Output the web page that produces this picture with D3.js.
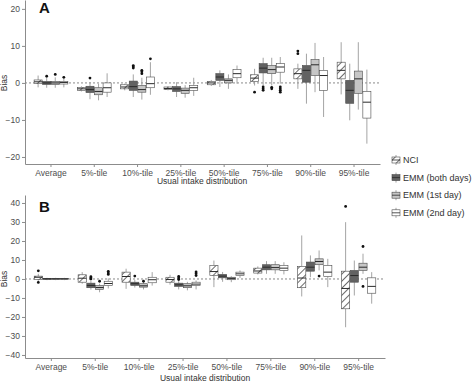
<!DOCTYPE html>
<html>
<head>
<meta charset="utf-8">
<script src="https://cdn.jsdelivr.net/npm/d3@7"></script>
<style>
  body { margin: 0; background: #fff; }
  text { font-family: "Liberation Sans", Arial, sans-serif; }
</style>
</head>
<body>
<svg width="474" height="383"></svg>
<script>
var categories = ["Average", "5%-tile", "10%-tile", "25%-tile", "50%-tile", "75%-tile", "90%-tile", "95%-tile"];
var series = ["NCI", "EMM (both days)", "EMM (1st day)", "EMM (2nd day)"];

// [lower whisker, q1, median, q3, upper whisker] per category
var aNCI = [[-1.2, -0.2, 0.3, 0.8, 2.0], [-2.3, -2.0, -1.6, -1.2, -0.9], [-2.0, -1.6, -1.1, -0.5, -0.2], [-2.0, -1.8, -1.5, -1.1, -0.9],
            [-0.8, -0.5, 0.0, 0.4, 0.8], [-0.7, 0.4, 1.3, 2.2, 3.8], [-1.6, 1.1, 2.5, 3.8, 5.2], [-3.1, 1.1, 3.4, 5.6, 11.0]];
var aBoth = [[-1.3, -0.4, 0.0, 0.4, 1.3], [-4.4, -2.6, -1.8, -0.9, 0.2], [-3.8, -2.0, -1.0, 0.5, 2.3], [-3.8, -2.3, -1.6, -1.0, 0.2],
             [-1.1, 0.7, 1.6, 2.5, 3.4], [-0.7, 2.7, 4.0, 5.2, 6.8], [-5.6, 0.2, 3.4, 4.7, 7.9], [-10.1, -5.5, -2.0, 0.7, 5.2]];
var aFirst = [[-1.3, -0.4, 0.0, 0.4, 1.5], [-4.7, -3.2, -2.3, -1.3, -0.2], [-4.5, -2.5, -1.8, -0.7, 1.4], [-4.0, -2.8, -2.0, -1.4, -0.6],
              [-1.6, 0.0, 0.7, 1.1, 2.3], [-0.7, 2.5, 3.6, 4.7, 6.8], [-2.5, 2.0, 4.9, 6.3, 10.8], [-7.2, -2.8, 1.1, 3.2, 11.0]];
var aSecond = [[-1.2, -0.3, 0.1, 0.4, 1.2], [-3.8, -2.5, -1.3, 0.0, 2.6], [-3.2, -1.3, -0.2, 1.6, 5.6], [-3.5, -2.0, -1.3, -0.7, 1.4],
               [-0.2, 1.4, 2.5, 3.6, 4.7], [-0.2, 2.9, 4.3, 5.2, 7.0], [-9.2, -2.0, 2.0, 3.4, 7.0], [-16.4, -9.5, -5.2, -2.3, 3.6]];
// outliers: [series index, category index, value]
var aOutliers = [[1, 0, 1.8], [2, 0, 2.3], [3, 0, 1.5], [1, 1, 1.3],
                 [1, 2, 4.0], [1, 2, 4.4], [1, 2, 4.7], [2, 2, 2.5], [2, 2, 3.0], [2, 2, 3.4], [3, 2, 6.5],
                 [0, 5, -2.5], [1, 5, -1.1], [1, 5, -1.6], [1, 5, -2.0], [2, 5, -1.2], [2, 5, -1.6],
                 [3, 5, -1.1], [3, 5, -1.6], [3, 5, -2.0], [3, 5, -2.5], [0, 6, 7.9], [0, 6, 8.6]];

var bNCI = [[-1.0, -0.3, 0.9, 1.5, 2.7], [-2.5, -1.7, 0.4, 2.2, 3.6], [-5.2, -1.7, 1.3, 3.6, 5.4], [-3.0, -1.7, -0.3, 0.9, 2.2],
            [-4.3, 1.8, 3.9, 7.1, 9.7], [2.4, 3.1, 4.2, 5.7, 6.6], [-9.2, -4.6, 0.5, 6.6, 22.9], [-25.4, -15.7, -5.0, 4.1, 29.9]];
var bBoth = [[-0.6, -0.2, 0.1, 0.3, 0.6], [-5.6, -4.6, -3.4, -2.2, -0.8], [-4.5, -3.4, -2.5, -1.7, -0.5], [-5.5, -3.9, -3.1, -2.2, -1.0],
             [-1.5, 0.6, 1.5, 2.4, 3.7], [2.7, 4.8, 6.2, 7.5, 9.4], [0.9, 4.1, 6.2, 8.9, 12.4], [-8.7, -1.7, 1.8, 4.5, 9.7]];
var bFirst = [[-0.6, -0.2, 0.1, 0.3, 0.6], [-7.0, -5.5, -4.5, -3.4, -2.5], [-5.5, -4.3, -3.6, -2.5, -1.8], [-6.0, -4.6, -3.6, -2.5, -1.5],
              [-1.7, -0.4, 0.3, 0.9, 1.5], [2.7, 4.8, 6.0, 7.5, 9.4], [4.5, 7.5, 9.2, 10.6, 15.0], [2.7, 4.5, 6.2, 8.3, 13.3]];
var bSecond = [[-0.6, -0.2, 0.1, 0.3, 0.6], [-5.0, -3.4, -2.4, -1.2, 0.3], [-3.5, -2.0, -0.4, 0.9, 3.6], [-5.5, -3.4, -2.7, -1.7, -0.8],
               [0.6, 1.8, 2.7, 3.6, 4.5], [2.4, 4.5, 5.7, 7.1, 8.8], [-4.3, 1.3, 3.6, 7.1, 10.6], [-13.0, -7.5, -3.9, 0.6, 3.6]];
var bOutliers = [[0, 0, 4.3], [0, 0, -1.8], [1, 1, 0.0], [1, 1, 0.6], [1, 1, 1.2], [2, 1, -1.2], [3, 1, 2.4], [3, 1, 3.2], [3, 1, 4.0],
                 [1, 2, 1.5], [2, 2, -1.2], [1, 3, -0.3], [1, 3, 0.5], [1, 3, 1.3], [3, 3, 1.8], [3, 3, 2.8], [3, 3, 3.7],
                 [2, 6, 1.5], [0, 7, 38.2], [2, 7, 17.1], [2, 7, -3.9]];

var aTicks = [-20, -10, 0, 10, 20];
var bTicks = [-40, -30, -20, -10, 0, 10, 20, 30, 40];

var fills = ["url(#hatch)", "#626262", "#c6c6c6", "#ffffff"];

var svg = d3.select("svg");

var pat = svg.append("defs").append("pattern")
    .attr("id", "hatch")
    .attr("patternUnits", "userSpaceOnUse")
    .attr("width", 5).attr("height", 5)
    .attr("patternTransform", "rotate(45)");
pat.append("rect").attr("width", 5).attr("height", 5).attr("fill", "#fff");
pat.append("line").attr("x1", 0).attr("y1", 0).attr("x2", 0).attr("y2", 5)
    .attr("stroke", "#1a1a1a").attr("stroke-width", 1.3);

function drawPanel(p) {
  var x = d3.scaleBand().domain(categories).range([p.left, p.right]).paddingInner(0).paddingOuter(0.1);
  var y = d3.scaleLinear().domain(p.domain).range([p.bottom, p.top]);
  var groupW = x.bandwidth() * 0.78;
  var inner = d3.scaleBand().domain(d3.range(series.length)).range([0, groupW]).paddingInner(0.06);
  var off = (x.bandwidth() - groupW) / 2;
  var g = svg.append("g");

  // dashed zero reference line
  g.append("line")
      .attr("x1", p.left).attr("x2", p.right)
      .attr("y1", y(0)).attr("y2", y(0))
      .attr("stroke", "#555").attr("stroke-width", 0.7)
      .attr("stroke-dasharray", "2,2");

  p.stats.forEach(function(arr, si) {
    arr.forEach(function(d, ci) {
      var cx = x(categories[ci]) + off + inner(si) + inner.bandwidth() / 2;
      var w = inner.bandwidth();
      g.append("line").attr("x1", cx).attr("x2", cx).attr("y1", y(d[0])).attr("y2", y(d[1]))
          .attr("stroke", "#9a9a9a").attr("stroke-width", 0.9);
      g.append("line").attr("x1", cx).attr("x2", cx).attr("y1", y(d[3])).attr("y2", y(d[4]))
          .attr("stroke", "#9a9a9a").attr("stroke-width", 0.9);
      g.append("rect")
          .attr("x", cx - w / 2).attr("width", w)
          .attr("y", y(d[3])).attr("height", Math.max(1, y(d[1]) - y(d[3])))
          .attr("fill", fills[si])
          .attr("stroke", "#4a4a4a").attr("stroke-width", 0.6);
      g.append("line").attr("x1", cx - w / 2).attr("x2", cx + w / 2).attr("y1", y(d[2])).attr("y2", y(d[2]))
          .attr("stroke", "#2a2a2a").attr("stroke-width", 1);
    });
  });

  g.selectAll(".outlier")
      .data(p.outliers)
      .enter().append("circle")
      .attr("class", "outlier")
      .attr("cx", function(d) { return x(categories[d[1]]) + off + inner(d[0]) + inner.bandwidth() / 2; })
      .attr("cy", function(d) { return y(d[2]); })
      .attr("r", 1.4)
      .attr("fill", "#111");

  var ax = g.append("g")
      .attr("transform", "translate(0," + p.bottom + ")")
      .call(d3.axisBottom(x).tickSize(3).tickSizeOuter(0).tickPadding(2.5));
  var ay = g.append("g")
      .attr("transform", "translate(" + p.left + ",0)")
      .call(d3.axisLeft(y).tickValues(p.ticks).tickSize(3).tickSizeOuter(0).tickPadding(2));
  [ax, ay].forEach(function(a) {
    a.select(".domain").attr("stroke", "#8c8c8c").attr("stroke-width", 1);
    a.selectAll(".tick line").attr("stroke", "#8c8c8c");
    a.selectAll(".tick text").attr("fill", "#4d4d4d").style("font-size", "8.5px")
        .style("font-family", "'Liberation Sans', Arial, sans-serif");
  });

  g.append("text")
      .attr("x", p.titleX).attr("y", p.titleY)
      .attr("text-anchor", "middle")
      .attr("fill", "#333").style("font-size", "8.5px")
      .text("Usual intake distribution");

  g.append("text")
      .attr("transform", "translate(7," + y(0) + ") rotate(-90)")
      .attr("text-anchor", "middle")
      .attr("fill", "#333").style("font-size", "8.5px")
      .text("Bias");

  g.append("text")
      .attr("x", 39).attr("y", p.labelY)
      .attr("fill", "#111").style("font-size", "15px").style("font-weight", "bold")
      .text(p.label);
}

drawPanel({ left: 25, right: 380, top: 0, bottom: 164, domain: [-21.9, 22.4], ticks: aTicks,
  stats: [aNCI, aBoth, aFirst, aSecond], outliers: aOutliers, label: "A", labelY: 13, titleX: 202, titleY: 184 });
drawPanel({ left: 25, right: 385, top: 195, bottom: 358, domain: [-41.6, 44.2], ticks: bTicks,
  stats: [bNCI, bBoth, bFirst, bSecond], outliers: bOutliers, label: "B", labelY: 212, titleX: 205, titleY: 381 });

// legend
var legend = svg.append("g");
series.forEach(function(s, i) {
  var cy = 160 + i * 17.6;
  var cx = 396;
  legend.append("line").attr("x1", cx).attr("x2", cx).attr("y1", cy - 5).attr("y2", cy + 5)
      .attr("stroke", "#9a9a9a").attr("stroke-width", 0.9);
  legend.append("rect").attr("x", cx - 4).attr("y", cy - 3).attr("width", 8).attr("height", 6)
      .attr("fill", fills[i]).attr("stroke", "#4a4a4a").attr("stroke-width", 0.6);
  legend.append("line").attr("x1", cx - 4).attr("x2", cx + 4).attr("y1", cy).attr("y2", cy)
      .attr("stroke", "#2a2a2a").attr("stroke-width", 0.8);
  legend.append("text")
      .attr("x", 403).attr("y", cy + 3)
      .attr("fill", "#333").style("font-size", "9px")
      .text(s);
});
</script>
</body>
</html>
